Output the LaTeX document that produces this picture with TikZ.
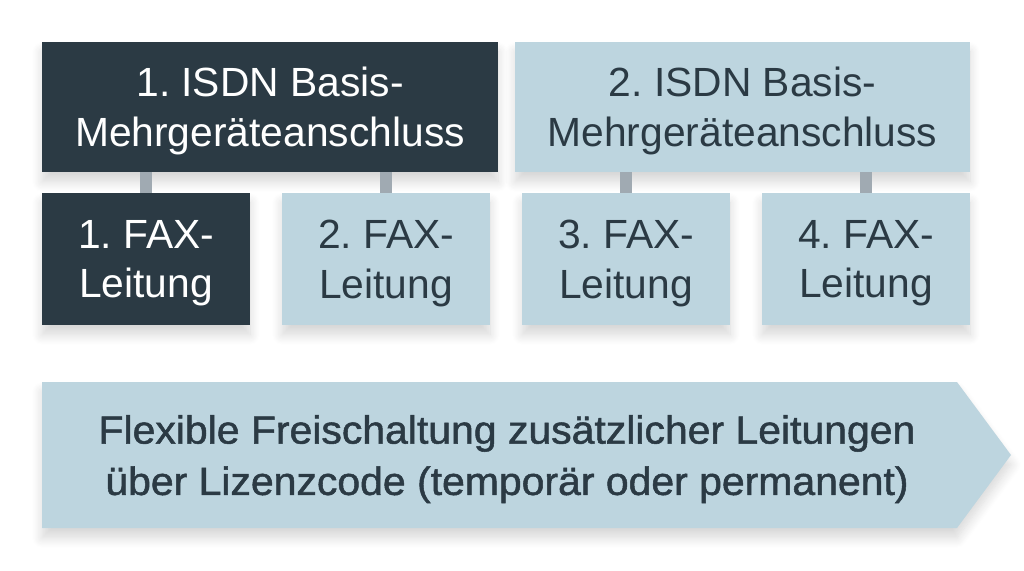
\documentclass[tikz,border=0pt]{standalone}
\usepackage{fontspec}
\setmainfont{Liberation Sans}
\newfontfamily\medfont[FakeBold=1.3,FakeStretch=1.04]{Liberation Sans}
\usepackage{tikz}
\usetikzlibrary{shapes,positioning,calc,shadows.blur}
\definecolor{isdndark}{RGB}{43,58,68}
\definecolor{isdnlight}{RGB}{189,213,223}
\definecolor{linkgray}{RGB}{160,170,178}
\frenchspacing

\tikzset{
    boxshadow/.style={blur shadow={shadow xshift=0pt, shadow yshift=-7pt, shadow blur radius=7pt,
        shadow blur steps=12, shadow opacity=16}},
    darkbox/.style={fill=isdndark, text=white, inner sep=0pt, align=center, boxshadow,
        font=\fontsize{29}{35.5}\selectfont},
    lightbox/.style={fill=isdnlight, text=isdndark, inner sep=0pt, align=center, boxshadow,
        font=\fontsize{29}{35.5}\selectfont},
    link/.style={linkgray, line width=0.3cm}
}

\begin{document}
\begin{tikzpicture}
    % Canvas
    \useasboundingbox (0,0) rectangle (25.6,14.25);

    % Anschluesse
    \node[darkbox, minimum width=11.4cm, minimum height=3.25cm] (isdn1) at (6.75,11.575)
        {1. ISDN Basis-\\\smash{Mehrgeräteanschluss}};
    \node[lightbox, minimum width=11.375cm, minimum height=3.25cm] (isdn2) at (18.5625,11.575)
        {2. ISDN Basis-\\\smash{Mehrgeräteanschluss}};

    % FAX lines
    \node[darkbox, minimum width=5.2cm, minimum height=3.3cm] (fax1) at (3.65,7.775) {1. FAX-\\\smash{Leitung}};
    \node[lightbox, minimum width=5.2cm, minimum height=3.3cm] (fax2) at (9.65,7.775) {2. FAX-\\\smash{Leitung}};
    \node[lightbox, minimum width=5.2cm, minimum height=3.3cm] (fax3) at (15.65,7.775) {3. FAX-\\\smash{Leitung}};
    \node[lightbox, minimum width=5.2cm, minimum height=3.3cm] (fax4) at (21.65,7.775) {4. FAX-\\\smash{Leitung}};

    % Connectors
    \foreach \fax/\isdn in {fax1/isdn1, fax2/isdn1, fax3/isdn2, fax4/isdn2} {
        \draw[link] (\fax.north) -- (\fax.north |- \isdn.south);
    }

    % Lizenz arrow
    \fill[isdnlight, boxshadow] (1.05,1.05) -- (23.925,1.05) -- (25.275,2.875)
        -- (23.925,4.7) -- (1.05,4.7) -- cycle;
    \node[text=isdndark, align=center, font=\medfont\fontsize{28}{36.5}\selectfont] (lizenz) at (12.675,2.875)
        {Flexible Freischaltung zusätzlicher Leitungen\\\smash{über Lizenzcode (temporär oder permanent)}};

\end{tikzpicture}
\end{document}
